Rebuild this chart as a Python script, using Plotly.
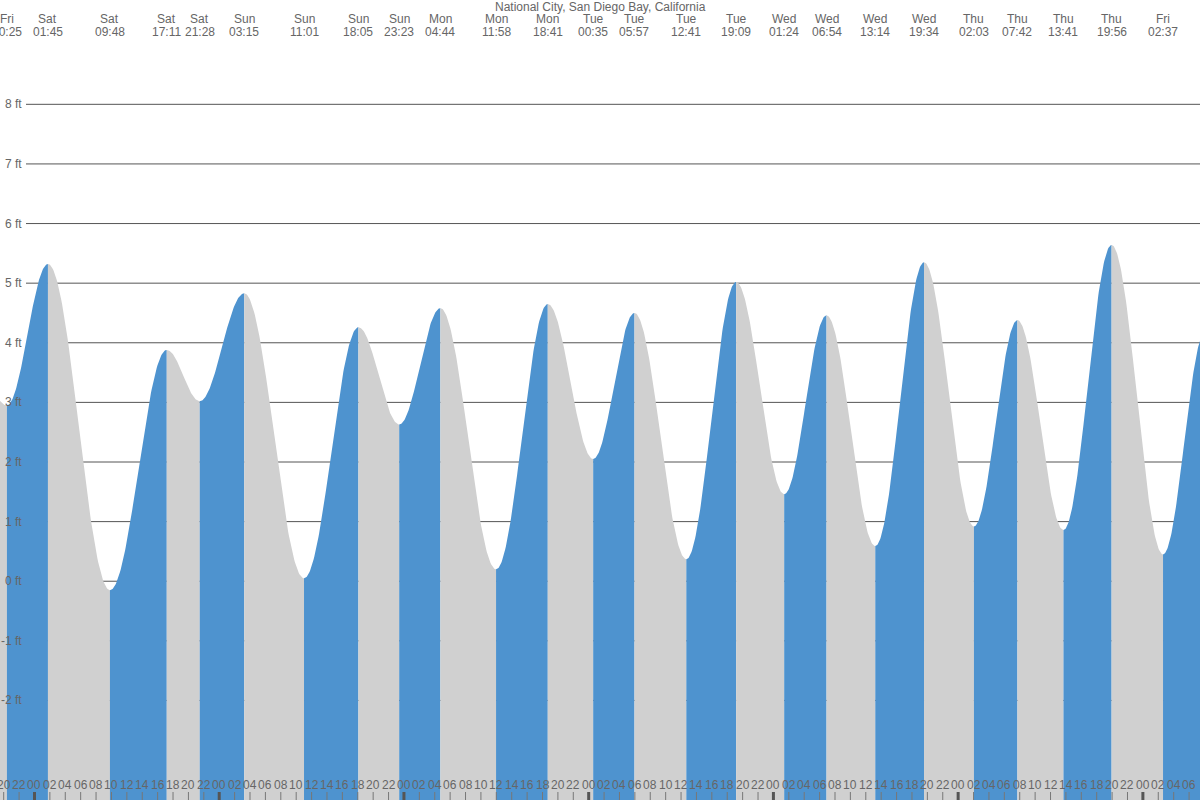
import numpy as np
import plotly.graph_objects as go

title = "National City, San Diego Bay, California"
days = ["Fri", "Fri", "Sat", "Sat", "Sat", "Sat", "Sun", "Sun", "Sun", "Sun", "Mon", "Mon", "Mon",
        "Tue", "Tue", "Tue", "Tue", "Wed", "Wed", "Wed", "Wed", "Thu", "Thu", "Thu", "Thu",
        "Fri", "Fri"]
times = ["14:50", "20:25", "01:45", "09:48", "17:11", "21:28", "03:15", "11:01", "18:05", "23:23",
         "04:44", "11:58", "18:41", "00:35", "05:57", "12:41", "19:09", "01:24", "06:54",
         "13:14", "19:34", "02:03", "07:42", "13:41", "19:56", "02:37", "08:06"]
heights = [4.20, 2.95, 5.32, -0.15, 3.88, 3.02, 4.83, 0.05, 4.26, 2.63, 4.58, 0.20, 4.65,
           2.05, 4.50, 0.37, 5.02, 1.46, 4.46, 0.59, 5.35, 0.92, 4.38, 0.86, 5.64, 0.45, 4.18]
y_ticks = [-2, -1, 0, 1, 2, 3, 4, 5, 6, 7, 8]

BLUE = "#4e93cf"
GRAY = "#d0d0d0"
TXT = "#666666"
X0, X1 = -4.48, 151.42
Y0, Y1 = -3.67, 9.75

# hours since Sat 00:00
hrs = []
cur = -1
last = "Fri"
for d, t in zip(days, times):
    if d != last:
        cur += 1
        last = d
    h, m = map(int, t.split(":"))
    hrs.append(cur * 24 + h + m / 60)

fig = go.Figure()
for i in range(len(hrs) - 1):
    ta, tb = hrs[i], hrs[i + 1]
    ha, hb = heights[i], heights[i + 1]
    tt = np.linspace(ta, tb, 80)
    f = (1 - np.cos(np.pi * (tt - ta) / (tb - ta))) / 2
    yy = ha + (hb - ha) * f
    color = BLUE if hb > ha else GRAY
    xs = np.concatenate([tt, [tb, ta]])
    ys = np.concatenate([yy, [Y0 - 1, Y0 - 1]])
    fig.add_trace(go.Scatter(x=xs, y=ys, fill="toself", fillcolor=color, mode="lines",
                             line=dict(width=0, color=color), hoverinfo="skip", showlegend=False))

ann = []
shapes = []
for v in y_ticks:
    ann.append(dict(x=24 / 1200, xref="paper", y=v, yref="y", text=f"{v} ft", showarrow=False,
                    xanchor="right", font=dict(size=12, color=TXT)))
    shapes.append(dict(type="line", xref="paper", x0=26 / 1200, x1=1, yref="y", y0=v, y1=v,
                       line=dict(color="#555555", width=1), layer="below"))

for d, t, h in zip(days, times, hrs):
    if h < X0 - 1:
        continue
    ann.append(dict(x=h, y=1 - 19 / 800, xref="x", yref="paper", text=d, showarrow=False,
                    yanchor="middle", font=dict(size=12, color=TXT)))
    ann.append(dict(x=h, y=1 - 32 / 800, xref="x", yref="paper", text=t, showarrow=False,
                    yanchor="middle", font=dict(size=12, color=TXT)))

for hh in range(-4, 154, 2):
    ann.append(dict(x=hh, y=15 / 800, xref="x", yref="paper", text=f"{hh % 24:02d}", showarrow=False,
                    yanchor="middle", font=dict(size=12, color=TXT)))
    mid = hh % 24 == 0
    shapes.append(dict(type="line", xref="x", x0=hh, x1=hh, yref="paper", y0=0, y1=8 / 800,
                       line=dict(color="#555555" if mid else "#777777", width=3 if mid else 1)))

ann.append(dict(x=0.5, y=1 - 7 / 800, xref="paper", yref="paper", text=title, showarrow=False,
                yanchor="middle", font=dict(size=12, color=TXT)))

fig.update_layout(width=1200, height=800, margin=dict(l=0, r=0, t=0, b=0),
                  paper_bgcolor="white", plot_bgcolor="white",
                  font=dict(family="Liberation Sans, Arial, sans-serif"),
                  xaxis=dict(range=[X0, X1], visible=False, fixedrange=True),
                  yaxis=dict(range=[Y0, Y1], visible=False, fixedrange=True),
                  annotations=ann, shapes=shapes)
fig.write_html("out.html", config={"displayModeBar": False},
               post_script="document.body.style.margin='0';document.body.style.overflow='hidden';")
